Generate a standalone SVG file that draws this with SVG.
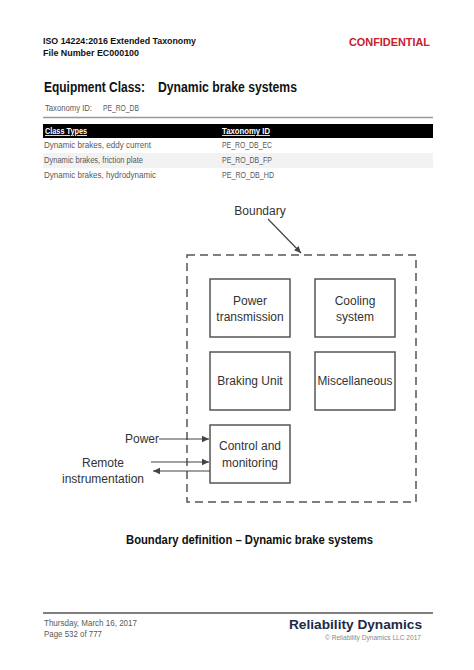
<svg xmlns="http://www.w3.org/2000/svg" width="474" height="670" viewBox="0 0 474 670">
<style>
.hd{font-family:"Liberation Sans",Arial,sans-serif;font-weight:bold;fill:#111}
.sm{font-family:"Liberation Sans",Arial,sans-serif;fill:#595959}
.dg{font-family:"Liberation Sans",Arial,sans-serif;font-size:12px;fill:#333}
.box{fill:#fff;stroke:#555;stroke-width:1.5}
.ln{stroke:#444;stroke-width:1.2;fill:none}
</style>
<defs>
<marker id="ah" markerWidth="8" markerHeight="8" refX="7" refY="4" orient="auto" markerUnits="userSpaceOnUse">
<path d="M0,0.8 L7,4 L0,7.2 Z" fill="#444"/>
</marker>
</defs>
<rect width="474" height="670" fill="#fff"/>
<g id="header">
<text class="hd" x="43" y="44" font-size="9" textLength="153" lengthAdjust="spacingAndGlyphs">ISO 14224:2016 Extended Taxonomy</text>
<text class="hd" x="43" y="56" font-size="9" textLength="96" lengthAdjust="spacingAndGlyphs">File Number EC000100</text>
<text x="349" y="46" font-family="Liberation Sans,Arial,sans-serif" font-weight="bold" font-size="11" fill="#c8202c" textLength="81" lengthAdjust="spacingAndGlyphs">CONFIDENTIAL</text>
</g>
<g id="title">
<text class="hd" x="44" y="92" font-size="14" fill="#222"><tspan x="44" textLength="101" lengthAdjust="spacingAndGlyphs">Equipment Class:</tspan><tspan x="158" textLength="139" lengthAdjust="spacingAndGlyphs">Dynamic brake systems</tspan></text>
<text class="sm" x="45" y="111" font-size="8.5"><tspan x="45" textLength="47" lengthAdjust="spacingAndGlyphs">Taxonomy ID:</tspan><tspan x="103" textLength="36" lengthAdjust="spacingAndGlyphs">PE_RO_DB</tspan></text>
<line x1="43" y1="117.5" x2="433" y2="117.5" stroke="#999" stroke-width="1.5"/>
</g>
<g id="table">
<rect x="43" y="124" width="390" height="14" fill="#000"/>
<text x="45" y="134" font-family="Liberation Sans,Arial,sans-serif" font-weight="bold" font-size="8.5" fill="#fff" text-decoration="underline" textLength="42" lengthAdjust="spacingAndGlyphs">Class Types</text>
<text x="222" y="134" font-family="Liberation Sans,Arial,sans-serif" font-weight="bold" font-size="8.5" fill="#fff" text-decoration="underline" textLength="48" lengthAdjust="spacingAndGlyphs">Taxonomy ID</text>
<rect x="43" y="153" width="390" height="15" fill="#f2f2f2"/>
<text class="sm" x="44" y="148" font-size="8.5" textLength="107" lengthAdjust="spacingAndGlyphs">Dynamic brakes, eddy current</text>
<text class="sm" x="222" y="148" font-size="8.5" textLength="50" lengthAdjust="spacingAndGlyphs">PE_RO_DB_EC</text>
<text class="sm" x="44" y="163" font-size="8.5" textLength="99" lengthAdjust="spacingAndGlyphs">Dynamic brakes, friction plate</text>
<text class="sm" x="222" y="163" font-size="8.5" textLength="50" lengthAdjust="spacingAndGlyphs">PE_RO_DB_FP</text>
<text class="sm" x="44" y="178" font-size="8.5" textLength="112" lengthAdjust="spacingAndGlyphs">Dynamic brakes, hydrodynamic</text>
<text class="sm" x="222" y="178" font-size="8.5" textLength="52" lengthAdjust="spacingAndGlyphs">PE_RO_DB_HD</text>
</g>
<g id="boundary">
<rect x="187" y="255" width="229" height="247" fill="none" stroke="#555" stroke-width="1.5" stroke-dasharray="8 5"/>
<text class="dg" x="260" y="215" text-anchor="middle">Boundary</text>
</g>
<g id="power-transmission">
<rect class="box" x="210" y="279" width="80" height="58"/>
<text class="dg" x="250" y="305" text-anchor="middle">Power</text>
<text class="dg" x="250" y="321" text-anchor="middle">transmission</text>
</g>
<g id="cooling-system">
<rect class="box" x="315" y="279" width="80" height="58"/>
<text class="dg" x="355" y="305" text-anchor="middle">Cooling</text>
<text class="dg" x="355" y="321" text-anchor="middle">system</text>
</g>
<g id="braking-unit">
<rect class="box" x="210" y="352" width="80" height="58"/>
<text class="dg" x="250" y="385" text-anchor="middle">Braking Unit</text>
</g>
<g id="miscellaneous">
<rect class="box" x="315" y="352" width="80" height="58"/>
<text class="dg" x="355" y="385" text-anchor="middle" textLength="75" lengthAdjust="spacingAndGlyphs">Miscellaneous</text>
</g>
<g id="control-monitoring">
<rect class="box" x="210" y="425" width="80" height="58"/>
<text class="dg" x="250" y="450" text-anchor="middle">Control and</text>
<text class="dg" x="250" y="467" text-anchor="middle">monitoring</text>
</g>
<g id="labels">
<text class="dg" x="159" y="443" text-anchor="end">Power</text>
<text class="dg" x="103" y="467" text-anchor="middle">Remote</text>
<text class="dg" x="103" y="483" text-anchor="middle">instrumentation</text>
</g>
<g id="connectors">
<line class="ln" x1="268" y1="219" x2="301" y2="253" marker-end="url(#ah)"/>
<line class="ln" x1="159" y1="439" x2="209" y2="439" marker-end="url(#ah)"/>
<line class="ln" x1="151" y1="462" x2="209" y2="462" marker-end="url(#ah)"/>
<line class="ln" x1="210" y1="471" x2="153" y2="471" marker-end="url(#ah)"/>
</g>
<g id="caption">
<text class="hd" x="126" y="544" font-size="12" fill="#222" textLength="247" lengthAdjust="spacingAndGlyphs">Boundary definition – Dynamic brake systems</text>
</g>
<g id="footer">
<line x1="43" y1="613" x2="433" y2="613" stroke="#555" stroke-width="1.5"/>
<text class="sm" x="44" y="626" font-size="8.5" textLength="93" lengthAdjust="spacingAndGlyphs">Thursday, March 16, 2017</text>
<text class="sm" x="44" y="637" font-size="8.5" textLength="58" lengthAdjust="spacingAndGlyphs">Page 532 of 777</text>
<text x="289" y="629" font-family="Liberation Sans,Arial,sans-serif" font-weight="bold" font-size="13" fill="#1c2a4a" textLength="133" lengthAdjust="spacingAndGlyphs">Reliability Dynamics</text>
<text x="421" y="640" font-family="Liberation Sans,Arial,sans-serif" font-size="7" fill="#888" text-anchor="end" textLength="96" lengthAdjust="spacingAndGlyphs">© Reliability Dynamics LLC 2017</text>
</g>
</svg>
